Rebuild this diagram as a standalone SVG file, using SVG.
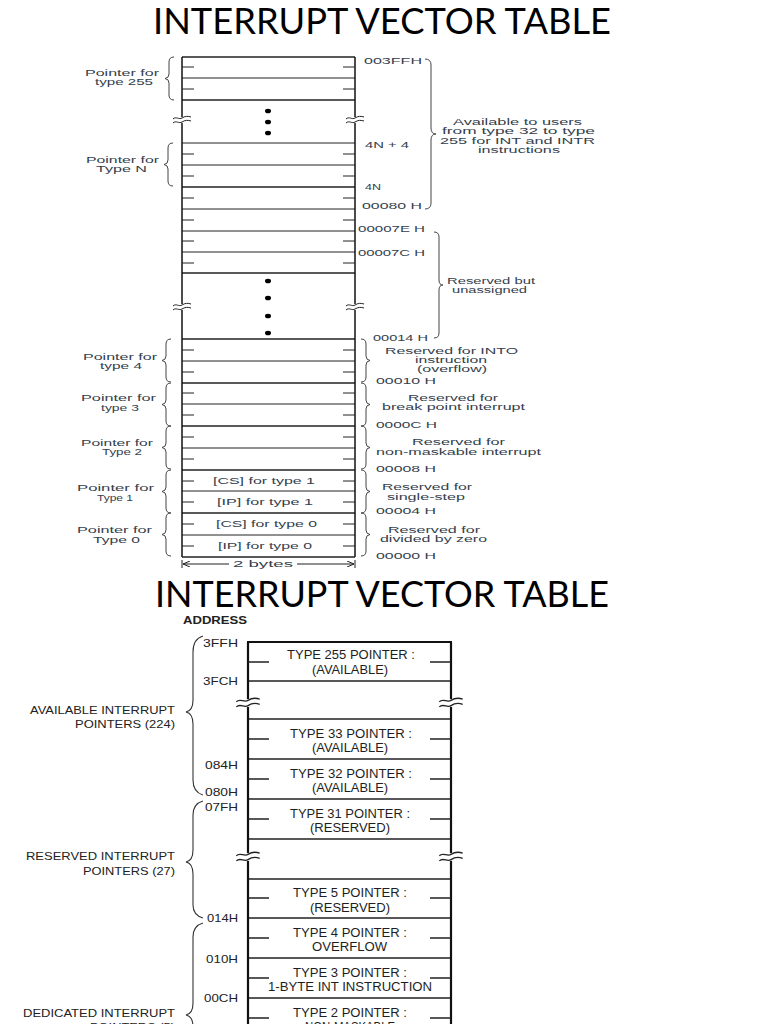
<svg xmlns="http://www.w3.org/2000/svg" width="768" height="1024" viewBox="0 0 768 1024">
<style>
.title{font-family:Lato,"Liberation Sans",sans-serif;font-size:36px;fill:#000}
.t{font-family:"Liberation Sans",Arial,sans-serif;font-size:8.5px;fill:#34404c}
.b{font-family:"Liberation Sans",Arial,sans-serif;font-size:12px;fill:#1e1e1e}
.a{font-family:"Liberation Sans",Arial,sans-serif;font-size:11px;fill:#222}
.row{stroke:#222;stroke-width:1}
.row2{stroke:#222;stroke-width:1.4}
.edge{stroke:#111;stroke-width:1.5;fill:none}
.edge2{stroke:#111;stroke-width:2.2;fill:none}
.tick{stroke:#222;stroke-width:1}
.tick2{stroke:#222;stroke-width:1.5}
.brace{fill:none;stroke:#444;stroke-width:1}
.brace2{fill:none;stroke:#333;stroke-width:1.1}
</style>
<defs>
<g id="brk"><rect x="-3" y="-3" width="6" height="6" fill="#fff"/><path d="M-9,-1 c3,-3 6,1 9,-1 s6,-2 9,-1 M-9,3 c3,-3 6,1 9,-1 s6,-2 9,-1" fill="none" stroke="#222" stroke-width="1"/></g>
<path id="lb" d="M0,0 q-5,0 -5,5 v12 q0,4 -4,4.5 q4,0.5 4,4.5 v12 q0,5 5,5"/>
<path id="rb" d="M0,0 q5,0 5,5 v12 q0,4 4,4.5 q-4,0.5 -4,4.5 v12 q0,5 -5,5"/>
<marker id="ah" markerWidth="8" markerHeight="6" refX="7" refY="3" orient="auto-start-reverse" markerUnits="userSpaceOnUse"><path d="M0,0 L7,3 L0,6" fill="none" stroke="#222" stroke-width="1"/></marker>
</defs>

<text class="title" x="153" y="34" textLength="458" lengthAdjust="spacingAndGlyphs">INTERRUPT VECTOR TABLE</text>

<g id="table1">
<g id="rows1">
<line class="row2" x1="182" y1="57" x2="355" y2="57"/>
<line class="row" x1="182" y1="78" x2="355" y2="78"/>
<line class="row2" x1="182" y1="100" x2="355" y2="100"/>
<line class="row" x1="182" y1="143" x2="355" y2="143"/>
<line class="row" x1="182" y1="165" x2="355" y2="165"/>
<line class="row2" x1="182" y1="187" x2="355" y2="187"/>
<line class="row" x1="182" y1="209" x2="355" y2="209"/>
<line class="row" x1="182" y1="231" x2="355" y2="231"/>
<line class="row" x1="182" y1="252" x2="355" y2="252"/>
<line class="row2" x1="182" y1="273" x2="355" y2="273"/>
<line class="row2" x1="182" y1="339" x2="355" y2="339"/>
<line class="row" x1="182" y1="361" x2="355" y2="361"/>
<line class="row2" x1="182" y1="383" x2="355" y2="383"/>
<line class="row" x1="182" y1="404" x2="355" y2="404"/>
<line class="row2" x1="182" y1="426" x2="355" y2="426"/>
<line class="row" x1="182" y1="448" x2="355" y2="448"/>
<line class="row2" x1="182" y1="470" x2="355" y2="470"/>
<line class="row" x1="182" y1="491" x2="355" y2="491"/>
<line class="row2" x1="182" y1="513" x2="355" y2="513"/>
<line class="row" x1="182" y1="535" x2="355" y2="535"/>
<line class="row2" x1="182" y1="557" x2="355" y2="557"/>
</g>
<line class="edge" x1="182" y1="57" x2="182" y2="557"/>
<line class="edge" x1="355" y1="57" x2="355" y2="557"/>
<g id="ticks1">
<path class="tick" d="M182,67h12M343,67h12M182,89h12M343,89h12M182,154h12M343,154h12M182,176h12M343,176h12M182,198h12M343,198h12M182,220h12M343,220h12M182,241h12M343,241h12M182,263h12M343,263h12M182,350h12M343,350h12M182,372h12M343,372h12M182,393h12M343,393h12M182,415h12M343,415h12M182,437h12M343,437h12M182,459h12M343,459h12M182,481h12M343,481h12M182,502h12M343,502h12M182,524h12M343,524h12M182,546h12M343,546h12"/>
</g>
<use href="#brk" x="182" y="120"/>
<use href="#brk" x="355" y="120"/>
<use href="#brk" x="182" y="307"/>
<use href="#brk" x="355" y="307"/>
<g id="dots1" fill="#000">
<ellipse cx="268" cy="111" rx="3" ry="2.3"/>
<ellipse cx="268" cy="122" rx="3" ry="2.3"/>
<ellipse cx="268" cy="133" rx="3" ry="2.3"/>
<ellipse cx="268" cy="281" rx="3" ry="2.3"/>
<ellipse cx="268" cy="298" rx="3" ry="2.3"/>
<ellipse cx="268" cy="316" rx="3" ry="2.3"/>
<ellipse cx="268" cy="333" rx="3" ry="2.3"/>
</g>
<text class="t" x="213" y="484" textLength="102" lengthAdjust="spacingAndGlyphs">[CS] for type 1</text>
<text class="t" x="217" y="505" textLength="96" lengthAdjust="spacingAndGlyphs">[IP] for type 1</text>
<text class="t" x="216" y="527" textLength="101" lengthAdjust="spacingAndGlyphs">[CS] for type 0</text>
<text class="t" x="218" y="549" textLength="94" lengthAdjust="spacingAndGlyphs">[IP] for type 0</text>
<g id="bytes">
<line class="tick" x1="182" y1="560" x2="182" y2="568"/>
<line class="tick" x1="355" y1="560" x2="355" y2="568"/>
<line class="tick" x1="183" y1="564" x2="229" y2="564" marker-start="url(#ah)"/>
<line class="tick" x1="297" y1="564" x2="354" y2="564" marker-end="url(#ah)"/>
<text class="t" x="233" y="567" textLength="60" lengthAdjust="spacingAndGlyphs">2 bytes</text>
</g>
</g>

<g id="left1">
<use href="#lb" x="174" y="57" class="brace"/>
<use href="#lb" x="173" y="143" class="brace"/>
<use href="#lb" x="171" y="339" class="brace"/>
<use href="#lb" x="171" y="383" class="brace"/>
<use href="#lb" x="171" y="426" class="brace"/>
<use href="#lb" x="171" y="470" class="brace"/>
<use href="#lb" x="171" y="513" class="brace"/>
<text class="t" x="85" y="76" textLength="74" lengthAdjust="spacingAndGlyphs">Pointer for</text>
<text class="t" x="95" y="85" textLength="58" lengthAdjust="spacingAndGlyphs">type 255</text>
<text class="t" x="86" y="163" textLength="73" lengthAdjust="spacingAndGlyphs">Pointer for</text>
<text class="t" x="96" y="172" textLength="51" lengthAdjust="spacingAndGlyphs">Type N</text>
<text class="t" x="83" y="360" textLength="74" lengthAdjust="spacingAndGlyphs">Pointer for</text>
<text class="t" x="100" y="369" textLength="42" lengthAdjust="spacingAndGlyphs">type 4</text>
<text class="t" x="81" y="401" textLength="75" lengthAdjust="spacingAndGlyphs">Pointer for</text>
<text class="t" x="101" y="411" textLength="38" lengthAdjust="spacingAndGlyphs">type 3</text>
<text class="t" x="81" y="446" textLength="72" lengthAdjust="spacingAndGlyphs">Pointer for</text>
<text class="t" x="102" y="455" textLength="40" lengthAdjust="spacingAndGlyphs">Type 2</text>
<text class="t" x="77" y="491" textLength="77" lengthAdjust="spacingAndGlyphs">Pointer for</text>
<text class="t" x="97" y="501" textLength="36" lengthAdjust="spacingAndGlyphs">Type 1</text>
<text class="t" x="77" y="533" textLength="75" lengthAdjust="spacingAndGlyphs">Pointer for</text>
<text class="t" x="93" y="543" textLength="47" lengthAdjust="spacingAndGlyphs">Type 0</text>
</g>

<g id="right1">
<path class="brace" d="M425,59 q6,0 6,6 v63 q0,6 5,6 q-5,0 -5,6 v63 q0,6 -6,6"/>
<path class="brace" d="M434,232 q5,0 5,5 v43 q0,5 4,5 q-4,0 -4,5 v43 q0,5 -5,5"/>
<use href="#rb" x="361" y="339" class="brace"/>
<use href="#rb" x="361" y="383" class="brace"/>
<use href="#rb" x="361" y="426" class="brace"/>
<use href="#rb" x="361" y="470" class="brace"/>
<use href="#rb" x="361" y="513" class="brace"/>
<text class="t" x="364" y="64" textLength="58" lengthAdjust="spacingAndGlyphs">003FFH</text>
<text class="t" x="365" y="148" textLength="44" lengthAdjust="spacingAndGlyphs">4N + 4</text>
<text class="t" x="365" y="190" textLength="16" lengthAdjust="spacingAndGlyphs">4N</text>
<text class="t" x="362" y="209" textLength="60" lengthAdjust="spacingAndGlyphs">00080 H</text>
<text class="t" x="453" y="125" textLength="129" lengthAdjust="spacingAndGlyphs">Available to users</text>
<text class="t" x="442" y="134" textLength="153" lengthAdjust="spacingAndGlyphs">from type 32 to type</text>
<text class="t" x="440" y="144" textLength="155" lengthAdjust="spacingAndGlyphs">255 for INT and INTR</text>
<text class="t" x="478" y="153" textLength="82" lengthAdjust="spacingAndGlyphs">instructions</text>
<text class="t" x="358" y="232" textLength="67" lengthAdjust="spacingAndGlyphs">00007E H</text>
<text class="t" x="358" y="256" textLength="67" lengthAdjust="spacingAndGlyphs">00007C H</text>
<text class="t" x="447" y="284" textLength="88" lengthAdjust="spacingAndGlyphs">Reserved but</text>
<text class="t" x="452" y="293" textLength="75" lengthAdjust="spacingAndGlyphs">unassigned</text>
<text class="t" x="373" y="341" textLength="55" lengthAdjust="spacingAndGlyphs">00014 H</text>
<text class="t" x="385" y="354" textLength="133" lengthAdjust="spacingAndGlyphs">Reserved for INTO</text>
<text class="t" x="415" y="363" textLength="72" lengthAdjust="spacingAndGlyphs">instruction</text>
<text class="t" x="417" y="372" textLength="70" lengthAdjust="spacingAndGlyphs">(overflow)</text>
<text class="t" x="376" y="384" textLength="60" lengthAdjust="spacingAndGlyphs">00010 H</text>
<text class="t" x="408" y="401" textLength="90" lengthAdjust="spacingAndGlyphs">Reserved for</text>
<text class="t" x="382" y="410" textLength="143" lengthAdjust="spacingAndGlyphs">break point interrupt</text>
<text class="t" x="376" y="428" textLength="61" lengthAdjust="spacingAndGlyphs">0000C H</text>
<text class="t" x="412" y="445" textLength="93" lengthAdjust="spacingAndGlyphs">Reserved for</text>
<text class="t" x="376" y="455" textLength="165" lengthAdjust="spacingAndGlyphs">non-maskable interrupt</text>
<text class="t" x="376" y="472" textLength="60" lengthAdjust="spacingAndGlyphs">00008 H</text>
<text class="t" x="382" y="490" textLength="90" lengthAdjust="spacingAndGlyphs">Reserved for</text>
<text class="t" x="387" y="500" textLength="78" lengthAdjust="spacingAndGlyphs">single-step</text>
<text class="t" x="376" y="514" textLength="60" lengthAdjust="spacingAndGlyphs">00004 H</text>
<text class="t" x="388" y="533" textLength="92" lengthAdjust="spacingAndGlyphs">Reserved for</text>
<text class="t" x="380" y="542" textLength="107" lengthAdjust="spacingAndGlyphs">divided by zero</text>
<text class="t" x="376" y="559" textLength="60" lengthAdjust="spacingAndGlyphs">00000 H</text>
</g>

<text class="title" x="155" y="607" textLength="454" lengthAdjust="spacingAndGlyphs">INTERRUPT VECTOR TABLE</text>

<g id="table2">
<path class="row2" d="M248,681H451M248,719H451M248,759H451M248,799H451M248,839H451M248,879H451M248,918H451M248,958H451M248,998H451"/>
<line class="edge2" x1="247" y1="642" x2="452" y2="642"/>
<line class="edge2" x1="248" y1="642" x2="248" y2="1024"/>
<line class="edge2" x1="451" y1="642" x2="451" y2="1024"/>
<path class="tick2" d="M248,662h21M430,662h21M248,739h21M430,739h21M248,779h21M430,779h21M248,819h21M430,819h21M248,898h21M430,898h21M248,938h21M430,938h21M248,978h21M430,978h21M248,1018h21M430,1018h21"/>
<use href="#brk" transform="translate(248,703) scale(1.3)"/>
<use href="#brk" transform="translate(451,703) scale(1.3)"/>
<use href="#brk" transform="translate(248,857) scale(1.3)"/>
<use href="#brk" transform="translate(451,857) scale(1.3)"/>
<text class="b" x="287" y="659" textLength="128" lengthAdjust="spacingAndGlyphs">TYPE 255 POINTER :</text>
<text class="b" x="312" y="674" textLength="76" lengthAdjust="spacingAndGlyphs">(AVAILABLE)</text>
<text class="b" x="290" y="738" textLength="122" lengthAdjust="spacingAndGlyphs">TYPE 33 POINTER :</text>
<text class="b" x="312" y="752" textLength="76" lengthAdjust="spacingAndGlyphs">(AVAILABLE)</text>
<text class="b" x="290" y="778" textLength="122" lengthAdjust="spacingAndGlyphs">TYPE 32 POINTER :</text>
<text class="b" x="312" y="792" textLength="76" lengthAdjust="spacingAndGlyphs">(AVAILABLE)</text>
<text class="b" x="290" y="818" textLength="120" lengthAdjust="spacingAndGlyphs">TYPE 31 POINTER :</text>
<text class="b" x="310" y="832" textLength="80" lengthAdjust="spacingAndGlyphs">(RESERVED)</text>
<text class="b" x="293" y="897" textLength="114" lengthAdjust="spacingAndGlyphs">TYPE 5 POINTER :</text>
<text class="b" x="310" y="912" textLength="80" lengthAdjust="spacingAndGlyphs">(RESERVED)</text>
<text class="b" x="293" y="937" textLength="114" lengthAdjust="spacingAndGlyphs">TYPE 4 POINTER :</text>
<text class="b" x="312" y="951" textLength="75" lengthAdjust="spacingAndGlyphs">OVERFLOW</text>
<text class="b" x="293" y="977" textLength="114" lengthAdjust="spacingAndGlyphs">TYPE 3 POINTER :</text>
<text class="b" x="268" y="991" textLength="164" lengthAdjust="spacingAndGlyphs">1-BYTE INT INSTRUCTION</text>
<text class="b" x="293" y="1017" textLength="114" lengthAdjust="spacingAndGlyphs">TYPE 2 POINTER :</text>
<text class="b" x="305" y="1031" textLength="90" lengthAdjust="spacingAndGlyphs">NON-MASKABLE</text>
</g>

<g id="addr2">
<text class="a" x="183" y="624" font-weight="bold" textLength="64" lengthAdjust="spacingAndGlyphs">ADDRESS</text>
<text class="a" x="203" y="647" textLength="35" lengthAdjust="spacingAndGlyphs">3FFH</text>
<text class="a" x="203" y="685" textLength="35" lengthAdjust="spacingAndGlyphs">3FCH</text>
<text class="a" x="205" y="769" textLength="33" lengthAdjust="spacingAndGlyphs">084H</text>
<text class="a" x="205" y="796" textLength="33" lengthAdjust="spacingAndGlyphs">080H</text>
<text class="a" x="205" y="811" textLength="33" lengthAdjust="spacingAndGlyphs">07FH</text>
<text class="a" x="207" y="922" textLength="31" lengthAdjust="spacingAndGlyphs">014H</text>
<text class="a" x="206" y="963" textLength="32" lengthAdjust="spacingAndGlyphs">010H</text>
<text class="a" x="204" y="1002" textLength="34" lengthAdjust="spacingAndGlyphs">00CH</text>
</g>

<g id="groups2">
<path class="brace2" d="M203,636 C196,638 193,644 193,652 L193,700 C193,707 191,711 186,712 C191,713 193,717 193,724 L193,780 C193,788 196,793 203,795"/>
<path class="brace2" d="M203,801 C196,803 193,808 193,815 L193,850 C193,857 191,861 186,862 C191,863 193,867 193,874 L193,905 C193,912 196,916 203,918"/>
<path class="brace2" d="M203,923 C196,925 193,930 193,937 L193,1003 C193,1010 191,1014 186,1015 C191,1016 193,1020 193,1027"/>
<text class="a" x="30" y="714" textLength="145" lengthAdjust="spacingAndGlyphs">AVAILABLE INTERRUPT</text>
<text class="a" x="75" y="728" textLength="100" lengthAdjust="spacingAndGlyphs">POINTERS (224)</text>
<text class="a" x="26" y="860" textLength="149" lengthAdjust="spacingAndGlyphs">RESERVED INTERRUPT</text>
<text class="a" x="83" y="875" textLength="92" lengthAdjust="spacingAndGlyphs">POINTERS (27)</text>
<text class="a" x="23" y="1017" textLength="152" lengthAdjust="spacingAndGlyphs">DEDICATED INTERRUPT</text>
<text class="a" x="90" y="1031" textLength="85" lengthAdjust="spacingAndGlyphs">POINTERS (5)</text>
</g>
</svg>
